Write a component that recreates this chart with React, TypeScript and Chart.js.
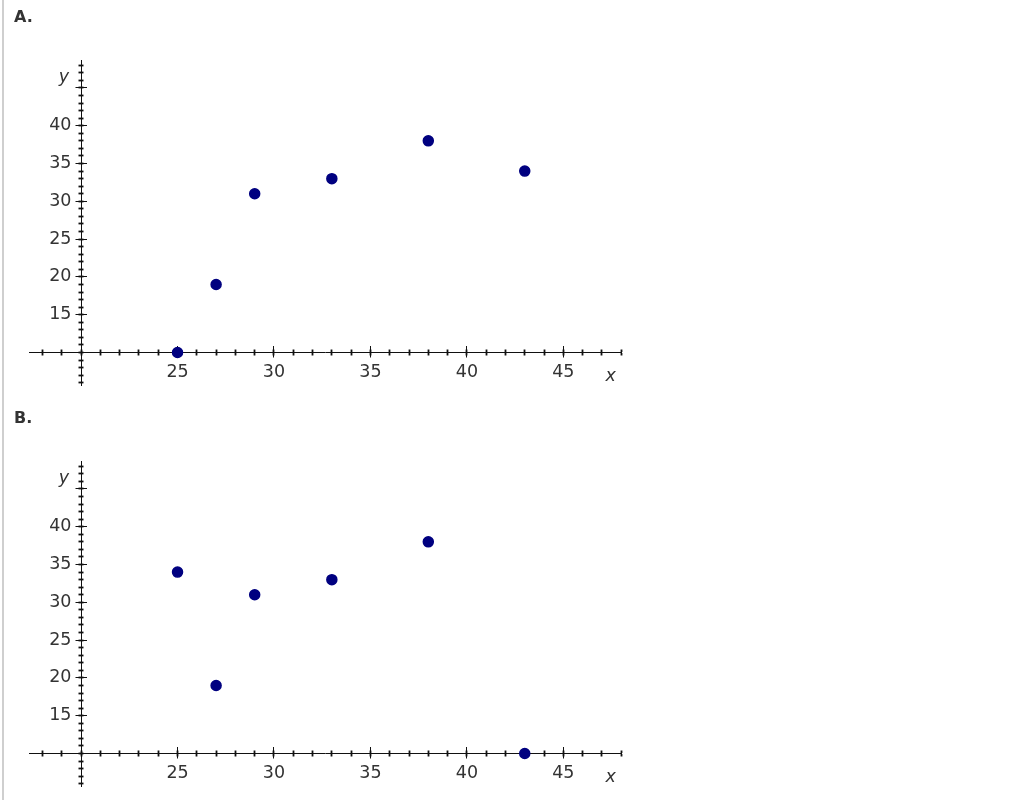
import React, { useEffect, useRef } from 'react';
import { Chart, registerables } from 'chart.js';

Chart.register(...registerables);

// ---- data ----
const xValues = [25, 27, 29, 33, 38, 43];
const yValuesA = [10, 19, 31, 33, 38, 34];
const yValuesB = [34, 19, 31, 33, 38, 10];
const xTickLabels = [25, 30, 35, 40, 45];
const yTickLabels = [15, 20, 25, 30, 35, 40];
const xRange = [17.3, 48];
const yRange = [5.7, 48.6];
const origin = { x: 20, y: 10 };
const axisNames = { x: 'x', y: 'y' };
const panelLabels = ['A.', 'B.'];

// ---- styles ----
const AXIS_COLOR = '#111';
const LABEL_COLOR = '#333';
const POINT_COLOR = '#000080';
const FONT_FAMILY = '"DejaVu Sans", Verdana, sans-serif';
const FONT_SIZE = 17.5;
const CANVAS_W = 660;
const CANVAS_H = 400;

const integerTicks = (scale: any) => {
  scale.ticks = scale.ticks.filter((t: any) => Math.abs(t.value - Math.round(t.value)) < 1e-9);
};

type AxisOpts = { labels?: boolean; border?: boolean; ticks?: boolean; at?: number; width?: number };

function xScale(step: number, tickLength: number, opts: AxisOpts) {
  return {
    type: 'linear',
    axis: 'x',
    min: xRange[0],
    max: xRange[1],
    position: { y: origin.y },
    afterBuildTicks: integerTicks,
    ticks: {
      stepSize: step,
      autoSkip: false,
      maxRotation: 0,
      includeBounds: false,
      display: !!opts.labels,
      padding: 9,
      color: LABEL_COLOR,
      font: { family: FONT_FAMILY, size: FONT_SIZE },
      callback: (v: number) => (xTickLabels.includes(v) ? String(v) : ''),
    },
    grid: {
      display: opts.ticks !== false,
      drawOnChartArea: false,
      drawTicks: opts.ticks !== false,
      tickLength,
      tickColor: AXIS_COLOR,
      tickWidth: opts.width ?? 1,
    },
    border: { display: !!opts.border, color: AXIS_COLOR, width: 1 },
  };
}

function yScale(step: number, tickLength: number, opts: AxisOpts) {
  return {
    type: 'linear',
    axis: 'y',
    min: yRange[0],
    max: yRange[1],
    position: { x: opts.at ?? origin.x },
    afterBuildTicks: integerTicks,
    ticks: {
      stepSize: step,
      autoSkip: false,
      includeBounds: false,
      display: !!opts.labels,
      padding: 0,
      color: LABEL_COLOR,
      font: { family: FONT_FAMILY, size: FONT_SIZE },
      callback: (v: number) => (yTickLabels.includes(v) ? String(v) : ''),
    },
    grid: {
      display: opts.ticks !== false,
      drawOnChartArea: false,
      drawTicks: opts.ticks !== false,
      tickLength,
      tickColor: AXIS_COLOR,
      tickWidth: opts.width ?? 1,
    },
    border: { display: !!opts.border, color: AXIS_COLOR, width: 1 },
  };
}

const axisNamePlugin = {
  id: 'axisNames',
  afterDatasetsDraw(chart: any) {
    const xs = chart.scales.x;
    const ys = chart.scales.y;
    const ctx = chart.ctx;
    ctx.save();
    ctx.fillStyle = LABEL_COLOR;
    ctx.font = `italic ${FONT_SIZE}px ${FONT_FAMILY}`;
    ctx.textBaseline = 'alphabetic';
    ctx.textAlign = 'center';
    ctx.fillText(axisNames.x, xs.getPixelForValue(47.45), ys.getPixelForValue(origin.y) + 29);
    ctx.textAlign = 'right';
    ctx.fillText(axisNames.y, xs.getPixelForValue(origin.x) - 12, ys.getPixelForValue(45.75));
    ctx.restore();
  },
};

function ScatterPanel({ ys }: { ys: number[] }) {
  const ref = useRef<HTMLCanvasElement | null>(null);
  useEffect(() => {
    if (!ref.current) return;
    const chart = new Chart(ref.current, {
      type: 'scatter',
      data: {
        datasets: [
          {
            data: xValues.map((x, i) => ({ x, y: ys[i] })),
            backgroundColor: POINT_COLOR,
            borderColor: POINT_COLOR,
            pointRadius: 5,
            pointBorderWidth: 1.5,
            pointHoverRadius: 5,
          },
        ],
      },
      options: {
        animation: false,
        responsive: false,
        events: [],
        layout: { padding: { left: 29, right: CANVAS_W - 621.2, top: 60.7, bottom: CANVAS_H - 385 } },
        plugins: { legend: { display: false }, tooltip: { enabled: false }, title: { display: false } },
        scales: {
          x: xScale(1, 2.5, { border: true, width: 1.8 }),
          xUp: xScale(1, -2.5, { width: 1.8 }),
          xMaj: xScale(5, 5.5, {}),
          xMajUp: xScale(5, -6, {}),
          xLab: xScale(5, 0, { labels: true, ticks: false }),
          y: yScale(1, 2.5, { border: true, width: 1.8 }),
          yRight: yScale(1, -2.5, { width: 1.8 }),
          yMaj: yScale(5, 5.5, {}),
          yMajRight: yScale(5, -6, {}),
          yLab: yScale(5, 0, { labels: true, ticks: false, at: 19.5 }),
        } as any,
      },
      plugins: [axisNamePlugin],
    });
    return () => chart.destroy();
  }, [ys]);
  return <canvas ref={ref} width={CANVAS_W} height={CANVAS_H} style={{ width: CANVAS_W, height: CANVAS_H, display: 'block' }} />;
}

export default function App() {
  const panels = [yValuesA, yValuesB];
  return (
    <div style={{ position: 'absolute', left: 0, top: 0, width: 1015, height: 800, background: '#fff', overflow: 'hidden' }}>
      <div style={{ position: 'absolute', left: 2, top: 0, width: 2, height: 800, background: '#cfcfcf' }} />
      {panels.map((ys, i) => (
        <div key={i} style={{ position: 'absolute', left: 0, top: i * 401, width: CANVAS_W, height: CANVAS_H }}>
          <div
            style={{
              position: 'absolute',
              left: 14,
              top: 7,
              fontFamily: FONT_FAMILY,
              fontWeight: 'bold',
              fontSize: 16,
              lineHeight: '20px',
              color: '#333',
              zIndex: 1,
            }}
          >
            {panelLabels[i]}
          </div>
          <ScatterPanel ys={ys} />
        </div>
      ))}
    </div>
  );
}
